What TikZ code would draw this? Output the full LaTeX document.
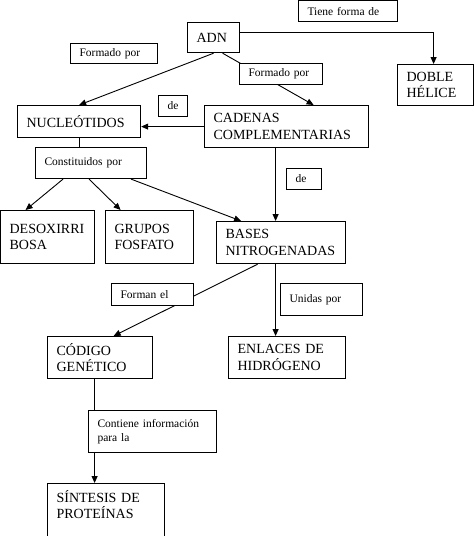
\documentclass[tikz,border=0pt]{standalone}
\usepackage{fontspec}
\setmainfont{Liberation Serif}
\usetikzlibrary{arrows.meta,backgrounds}
\begin{document}
\begin{tikzpicture}
[x=1pt,y=-1pt,
  conceptDecorate/.style={draw,line width=1.2pt,anchor=north west,align=left,
    inner xsep=9pt,inner ysep=0pt,font=\fontsize{14}{16.5}\selectfont},%
  labelDecorate/.style={draw,fill=white,line width=1.1pt,anchor=north west,align=left,
    inner xsep=9pt,inner ysep=0pt,font=\fontsize{11.5}{14}\selectfont},%
  lineDecorate/.style={line width=0.9pt},%
  arrowDecorate/.style={lineDecorate,-{Triangle[length=7pt,width=6pt]}}]
\useasboundingbox (0,0) rectangle (474,536);
%% concepts
\foreach \nodename/\x/\y/\tw/\h/\nodetext in {
  adn/187/22/34/30/{ADN}, doble/397/64/58/41/{DOBLE\\HÉLICE},
  nuc/17/105/105/32/{NUCLEÓTIDOS}, cad/204/105/146/42/{CADENAS\\COMPLEMENTARIAS},
  desox/0/210/76/53/{DESOXIRRI\\BOSA}, grupos/105/210/70/53/{GRUPOS\\FOSFATO},
  bases/216/221/111/42/{BASES\\NITROGENADAS},
  codigo/47/336/87/42/{CÓDIGO\\GENÉTICO}, enlaces/228/336/99/42/{ENLACES DE\\HIDRÓGENO}}
{
  \node (\nodename) at (\x,\y) [conceptDecorate,text width=\tw pt,minimum height=\h pt] {\nodetext};
}
\node (sintesis) at (47,483) [conceptDecorate,text width=99pt,text height=18.5pt,text depth=45pt]
  {SÍNTESIS DE\\PROTEÍNAS};
%% linking words
\foreach \nodename/\x/\y/\tw/\h/\nodetext in {
  tiene/298/0/81/21/{Tiene forma de}, formadoL/70/43/69/20/{Formado por},
  formadoR/239/63/65/21/{Formado por}, deNuc/158/95/11/21/{de},
  constit/35/147/93/31/{Constituidos por}, deBases/286/168/17/21/{de},
  forman/111/283/64/22/{Forman el}, unidas/280/283/64/32/{Unidas por},
  contiene/88/410/110/42/{Contiene información\\para la}}
{
  \node (\nodename) at (\x,\y) [labelDecorate,text width=\tw pt,minimum height=\h pt] {\nodetext};
}
%% connectors, behind the linking words
\begin{scope}[on background layer]
\fill[white] (0,0) rectangle (474,536);
\draw[arrowDecorate] ([yshift=5pt]adn.east) -| ([xshift=-2pt]doble.north);
\draw[arrowDecorate] (adn.south) -- (nuc.north);
\draw[arrowDecorate] ([xshift=9pt]adn.south) -- ([xshift=27pt]cad.north);
\draw[arrowDecorate] (cad.west) -- (cad.west -| nuc.east);
\draw[lineDecorate] (nuc.south) -- (nuc.south |- constit.north);
\draw[arrowDecorate] ([xshift=-28pt]constit.south) -- ([xshift=-22pt]desox.north);
\draw[arrowDecorate] ([xshift=-2pt]constit.south) -- ([xshift=-29pt]grupos.north);
\draw[arrowDecorate] ([xshift=40pt]constit.south) -- ([xshift=-40pt]bases.north);
\draw[arrowDecorate] ([xshift=-11pt]cad.south) -- ([xshift=-5.5pt]bases.north);
\draw[arrowDecorate] ([xshift=-23.5pt]bases.south) -- ([xshift=13.5pt]codigo.north);
\draw[arrowDecorate] ([xshift=-5.5pt]bases.south) -- ([xshift=-11.5pt]enlaces.north);
\draw[arrowDecorate] ([xshift=-5.5pt]codigo.south) -- ([xshift=-11.5pt]sintesis.north);
\end{scope}
\end{tikzpicture}
\end{document}
